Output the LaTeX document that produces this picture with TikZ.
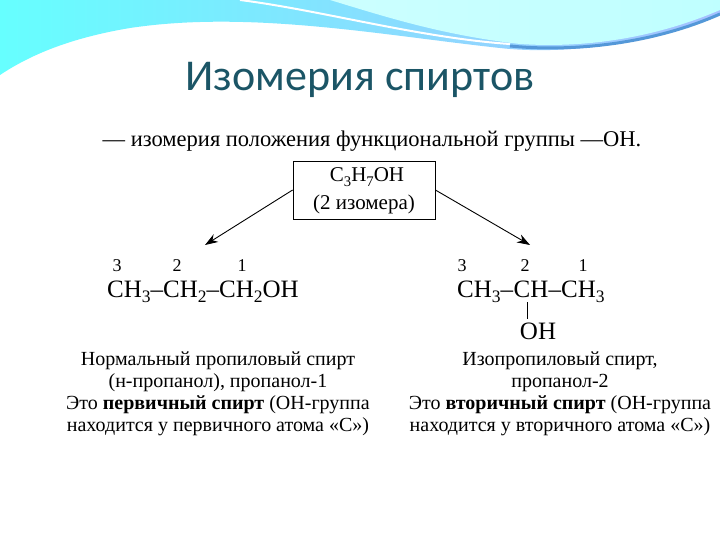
\documentclass[tikz,border=0pt]{standalone}
\usepackage{fontspec}
\setmainfont{Liberation Serif}
\newfontfamily\titlefont{Carlito}
\usetikzlibrary{arrows.meta}
\newcommand\sbs[1]{\raisebox{-0.45ex}{\scalebox{0.7}{#1}}}
\definecolor{titlec}{HTML}{1B5566}
\begin{document}
\begin{tikzpicture}[x=1pt,y=-1pt,
  txt/.style={font=\fontsize{20}{24}\selectfont,inner sep=0pt,anchor=base},
  mol/.style={font=\fontsize{25}{28}\selectfont,inner sep=0pt,anchor=base west},
  num/.style={font=\fontsize{18}{20}\selectfont,inner sep=0pt,anchor=base},
  arr/.style={-{Stealth[length=13pt,width=9pt]},line width=0.9pt}]
\useasboundingbox (0,0) rectangle (720,540);
\fill[white] (0,0) rectangle (720,540);
% decorative waves
\shade[left color=cyan!60!white, right color=cyan!30!blue!35!white]
  (0,0) -- (720,0) -- (720,15) .. controls (650,45) and (560,55) .. (500,48)
  .. controls (380,35) and (250,10) .. (130,28) .. controls (70,38) and (30,55) .. (0,75) -- cycle;
\shade[left color=cyan!20!white, right color=cyan!25!white]
  (330,0) -- (720,0) -- (720,10) .. controls (650,40) and (580,48) .. (520,44)
  .. controls (440,35) and (380,15) .. (330,0) -- cycle;
\draw[white,line width=2pt] (240,0) .. controls (320,10) and (420,38) .. (510,44);
\draw[cyan!60!blue!70,line width=3pt] (720,14) .. controls (650,45) and (570,52) .. (510,46);
% title
\node[font=\titlefont\fontsize{44}{50}\selectfont,text=titlec] (title) at (360,80) {Изомерия спиртов};
% subtitle
\node[txt,font=\fontsize{22.5}{26}\selectfont] (sub) at (372,147) {— изомерия положения функциональной группы —OH.};
% box
\node[draw,line width=0.8pt,minimum width=142pt,minimum height=58pt,inner sep=0pt] (box) at (364,190) {};
\node[txt,font=\fontsize{21}{24}\selectfont] (f) at (367,182) {C\sbs{3}H\sbs{7}OH};
\node[txt,font=\fontsize{21}{24}\selectfont] (iso) at (364,210) {(2 изомера)};
\coordinate (la) at (205,245);
\coordinate (ra) at (530,245);
\draw[arr] (box.west) -- (la);
\draw[arr] (box.east) -- (ra);
% left molecule
\node[num] (l3) at (117,271) {3};
\node[num] (l2) at (177,271) {2};
\node[num] (l1) at (242,271) {1};
\node[mol] (lm) at (107,297) {CH\sbs{3}–CH\sbs{2}–CH\sbs{2}OH};
% right molecule
\node[num] (r3) at (462,271) {3};
\node[num] (r2) at (525,271) {2};
\node[num] (r1) at (583,271) {1};
\node[mol] (ra1) at (457,297) {CH\sbs{3}–};
\node[mol] (rch) at (ra1.base east) {CH};
\node[mol] (ra3) at (rch.base east) {–CH\sbs{3}};
\node[mol,anchor=base] (oh) at (538,339) {OH};
\coordinate (bt) at (527,302);
\coordinate (bb) at (527,319);
\draw[line width=0.8pt] (bt) -- (bb);
% captions
\node[txt] (c1) at (218,365) {Нормальный пропиловый спирт};
\node[txt] (c2) at (218,387) {(н-пропанол), пропанол-1};
\node[txt] (c3) at (218,409) {Это \textbf{первичный спирт} (OH-группа};
\node[txt] (c4) at (218,431) {находится у первичного атома «C»)};
\node[txt] (d1) at (560,365) {Изопропиловый спирт,};
\node[txt] (d2) at (560,387) {пропанол-2};
\node[txt] (d3) at (560,409) {Это \textbf{вторичный спирт} (OH-группа};
\node[txt] (d4) at (560,431) {находится у вторичного атома «C»)};
\end{tikzpicture}
\end{document}
